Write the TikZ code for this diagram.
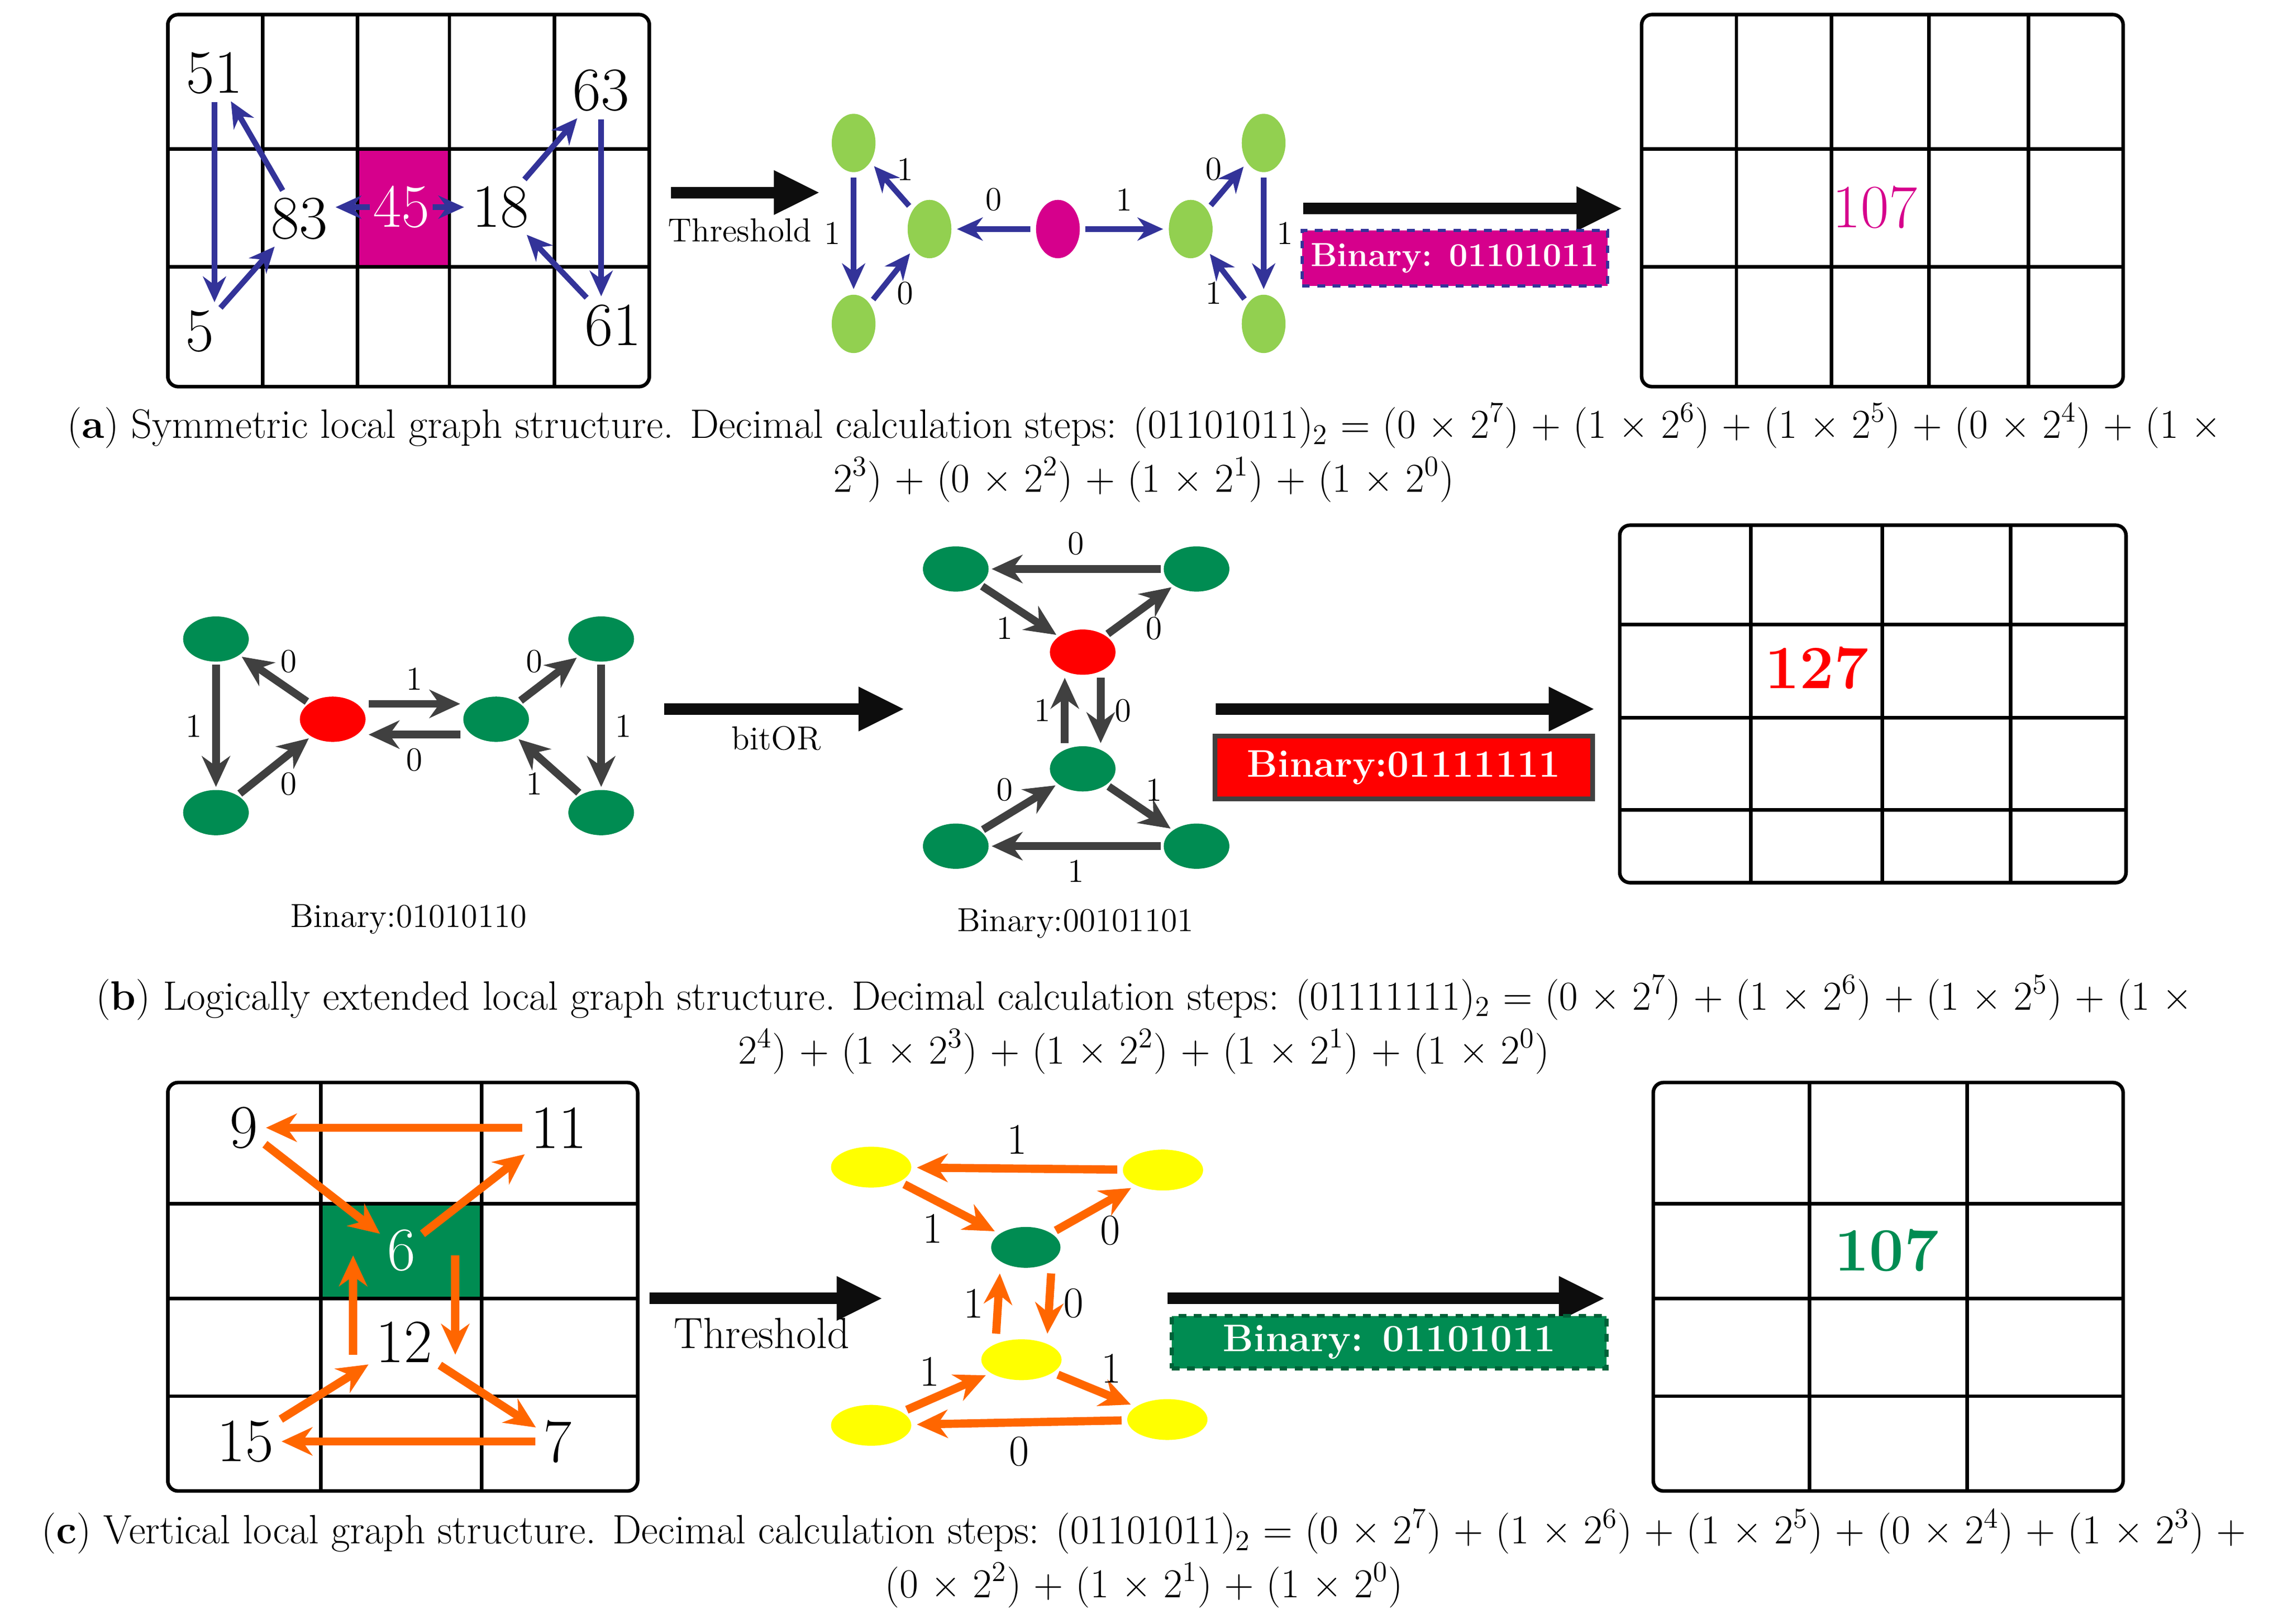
\documentclass[tikz,border=0pt]{standalone}
\usepackage{tikz}
\usetikzlibrary{arrows.meta,shapes.geometric}
\definecolor{magentaA}{RGB}{214,0,140}
\definecolor{blueA}{RGB}{51,51,153}
\definecolor{limeA}{RGB}{146,208,80}
\definecolor{greenB}{RGB}{0,140,82}
\definecolor{grayB}{RGB}{64,64,64}
\definecolor{orangeC}{RGB}{255,102,0}
\definecolor{yellowC}{RGB}{255,255,0}
\tikzset{
  cell/.style = {font=\fontsize{24}{24}\selectfont, inner sep=1pt},
  lab/.style = {font=\fontsize{13}{13}\selectfont, inner sep=1pt},
  labc/.style = {font=\fontsize{17}{17}\selectfont, inner sep=1pt},
  vA/.style = {ellipse, fill=limeA, minimum width=0.6cm, minimum height=0.8cm, inner sep=0pt},
  vB/.style = {ellipse, fill=greenB, minimum width=0.9cm, minimum height=0.62cm, inner sep=0pt},
  vC/.style = {ellipse, fill=yellowC, minimum width=1.1cm, minimum height=0.56cm, inner sep=0pt},
  blue/.style = {draw=blueA, line width=2.2pt, -{Stealth[length=10pt,width=9pt]}, shorten >=2pt, shorten <=2pt},
  dark/.style = {draw=grayB, line width=3pt, -{Stealth[length=12pt,width=11pt]}, shorten >=1pt, shorten <=1pt},
  orng/.style = {draw=orangeC, line width=3.2pt, -{Stealth[length=12pt,width=11pt]}, shorten >=2pt, shorten <=2pt},
  big/.style = {draw=black!95, line width=4.5pt, -{Triangle[length=18pt,width=16pt]}},
  gridline/.style = {draw=black, line width=1.4pt},
  captext/.style = {font=\fontsize{16}{21}\selectfont, align=center, inner sep=0pt}
}
\begin{document}
\begin{tikzpicture}[x=0.02cm,y=-0.02cm]
\useasboundingbox (0,0) rectangle (1568,1113);

% ---------- (a) ----------
\fill[magentaA] (245,102) rectangle (308,183);
\draw[gridline, rounded corners=4pt] (115,10) rectangle (445,265);
\foreach \x in {180,245,308,380} \draw[gridline] (\x,10) -- (\x,265);
\foreach \y in {102,183} \draw[gridline] (115,\y) -- (445,\y);
\node (n51) [cell] at (147,50) {51};
\node (n63) [cell] at (412,62) {63};
\node (n83) [cell] at (205,150) {83};
\node (n45) [cell,text=white] at (275,142) {45};
\node (n18) [cell] at (343,142) {18};
\node (n5) [cell] at (137,227) {5};
\node (n61) [cell] at (420,223) {61};
\draw [blue] (n51) -- (n51|-n5.north);
\draw [blue] (n83) -- (n51);
\draw [blue] (n5) -- (n83);
\draw [blue, shorten <=0pt] (n45.west) -- (n83.east|-n45.west);
\draw [blue, shorten <=0pt] (n45.east) -- (n18.west|-n45.east);
\draw [blue] (n18) -- (n63);
\draw [blue] (n63) -- (n63|-n61.north);
\draw [blue] (n61) -- (n18);

\node (ta) [lab] at (507,158) {Threshold};
\coordinate (ta1) at (460,132);
\coordinate (ta2) at (562,132);
\draw [big] (ta1) -- (ta2);

\node (a1) [vA] at (585,98) {};
\node (a2) [vA] at (637,157) {};
\node (a3) [vA] at (585,222) {};
\node (a0) [vA,fill=magentaA] at (725,157) {};
\node (a4) [vA] at (816,157) {};
\node (a5) [vA] at (866,98) {};
\node (a6) [vA] at (866,222) {};
\draw [blue] (a1) -- node[lab,left=3pt] {1} (a3);
\draw [blue] (a2) -- node[lab,above right] {1} (a1);
\draw [blue] (a3) -- node[lab,below right] {0} (a2);
\draw [blue] (a0) -- node[lab,above=5pt] {0} (a2);
\draw [blue] (a0) -- node[lab,above=5pt] {1} (a4);
\draw [blue] (a4) -- node[lab,above left] {0} (a5);
\draw [blue] (a5) -- node[lab,right=3pt] {1} (a6);
\draw [blue] (a6) -- node[lab,below left] {1} (a4);

\coordinate (pa1) at (893,143);
\coordinate (pa2) at (1112,143);
\draw [big] (pa1) -- (pa2);
\node (ba) [fill=magentaA, draw=blueA, dashed, line width=1.2pt, minimum width=3.75cm, minimum height=0.76cm,
  text=white, font=\fontsize{13}{13}\selectfont\bfseries] at (997,177) {Binary: 01101011};

\draw[gridline, rounded corners=4pt] (1125,10) rectangle (1455,265);
\foreach \x in {1190,1255,1322,1390} \draw[gridline] (\x,10) -- (\x,265);
\foreach \y in {102,183} \draw[gridline] (1125,\y) -- (1455,\y);
\node (ra) [cell,text=magentaA] at (1285,142) {107};

\node (capa) [captext] at (784,310) {(\textbf{a}) Symmetric local graph structure. Decimal calculation steps: (01101011)\textsubscript{2} = (0 × 2\textsuperscript{7}) + (1 × 2\textsuperscript{6}) + (1 × 2\textsuperscript{5}) + (0 × 2\textsuperscript{4}) + (1 ×\\
2\textsuperscript{3}) + (0 × 2\textsuperscript{2}) + (1 × 2\textsuperscript{1}) + (1 × 2\textsuperscript{0})};

% ---------- (b) ----------
\node (b1) [vB] at (148,438) {};
\node (b2) [vB] at (148,557) {};
\node (b0) [vB,fill=red] at (228,493) {};
\node (b3) [vB] at (340,493) {};
\node (b4) [vB] at (412,438) {};
\node (b5) [vB] at (412,557) {};
\draw [dark] (b1) -- node[lab,left=3pt] {1} (b2);
\draw [dark] (b0) -- node[lab,above right] {0} (b1);
\draw [dark] (b2) -- node[lab,below right] {0} (b0);
\draw [dark] ([yshift=6pt]b0.east) -- node[lab,above=3pt] {1} ([yshift=6pt]b3.west);
\draw [dark] ([yshift=-6pt]b3.west) -- node[lab,below=3pt] {0} ([yshift=-6pt]b0.east);
\draw [dark] (b3) -- node[lab,above left] {0} (b4);
\draw [dark] (b4) -- node[lab,right=3pt] {1} (b5);
\draw [dark] (b5) -- node[lab,below left] {1} (b3);
\node (bb1) [lab] at (280,630) {Binary:01010110};

\node (tb) [lab] at (532,506) {bitOR};
\coordinate (tb1) at (455,486);
\coordinate (tb2) at (620,486);
\draw [big] (tb1) -- (tb2);

\node (m1) [vB] at (655,390) {};
\node (m2) [vB] at (820,390) {};
\node (m0) [vB,fill=red] at (742,447) {};
\node (m3) [vB] at (742,527) {};
\node (m4) [vB] at (655,580) {};
\node (m5) [vB] at (820,580) {};
\draw [dark] (m2) -- node[lab,above=3pt] {0} (m1);
\draw [dark] (m1) -- node[lab,below left] {1} (m0);
\draw [dark] (m0) -- node[lab,below right] {0} (m2);
\draw [dark] ([xshift=-7pt]m3.north) -- node[lab,left=3pt] {1} ([xshift=-7pt]m0.south);
\draw [dark] ([xshift=7pt]m0.south) -- node[lab,right=3pt] {0} ([xshift=7pt]m3.north);
\draw [dark] (m4) -- node[lab,above left] {0} (m3);
\draw [dark] (m3) -- node[lab,above right] {1} (m5);
\draw [dark] (m5) -- node[lab,below=3pt] {1} (m4);
\node (bb2) [lab] at (737,633) {Binary:00101101};

\coordinate (pb1) at (833,486);
\coordinate (pb2) at (1093,486);
\draw [big] (pb1) -- (pb2);
\node (bb) [fill=red, draw=grayB, line width=1.8pt, minimum width=5.18cm, minimum height=0.86cm,
  text=white, font=\fontsize{15}{15}\selectfont\bfseries] at (962,526) {Binary:01111111};

\draw[gridline, rounded corners=4pt] (1110,360) rectangle (1457,605);
\foreach \x in {1200,1290,1378} \draw[gridline] (\x,360) -- (\x,605);
\foreach \y in {428,492,555} \draw[gridline] (1110,\y) -- (1457,\y);
\node (rb) [cell,text=red,font=\fontsize{24}{24}\selectfont\bfseries] at (1245,458) {127};

\node (capb) [captext] at (784,702) {(\textbf{b}) Logically extended local graph structure. Decimal calculation steps: (01111111)\textsubscript{2} = (0 × 2\textsuperscript{7}) + (1 × 2\textsuperscript{6}) + (1 × 2\textsuperscript{5}) + (1 ×\\
2\textsuperscript{4}) + (1 × 2\textsuperscript{3}) + (1 × 2\textsuperscript{2}) + (1 × 2\textsuperscript{1}) + (1 × 2\textsuperscript{0})};

% ---------- (c) ----------
\fill[greenB] (220,825) rectangle (330,890);
\draw[gridline, rounded corners=4pt] (115,742) rectangle (437,1022);
\foreach \x in {220,330} \draw[gridline] (\x,742) -- (\x,1022);
\foreach \y in {825,890,957} \draw[gridline] (115,\y) -- (437,\y);
\node (n9) [cell] at (167,773) {9};
\node (n11) [cell] at (383,773) {11};
\node (n6) [cell,text=white] at (275,857) {6};
\node (n12) [cell] at (277,920) {12};
\node (n15) [cell] at (168,988) {15};
\node (n7) [cell] at (382,988) {7};
\draw [orng] (n11) -- (n9);
\draw [orng] (n9) -- (n6);
\draw [orng] (n6) -- (n11);
\draw [orng, shorten <=-14pt] ([xshift=-0.7cm]n12.north) -- ([xshift=-0.7cm]n12.north|-n6.center);
\draw [orng, shorten >=-14pt] ([xshift=0.7cm]n12.north|-n6.center) -- ([xshift=0.7cm]n12.north);
\draw [orng] (n15) -- (n12);
\draw [orng] (n12) -- (n7);
\draw [orng] (n7) -- (n15);

\node (tc) [labc] at (522,914) {Threshold};
\coordinate (tc1) at (445,890);
\coordinate (tc2) at (605,890);
\draw [big] (tc1) -- (tc2);

\node (c1) [vC] at (597,800) {};
\node (c2) [vC] at (797,802) {};
\node (c0) [vC,fill=greenB,minimum width=0.95cm] at (703,855) {};
\node (c3) [vC] at (700,932) {};
\node (c4) [vC] at (597,977) {};
\node (c5) [vC] at (800,973) {};
\draw [orng] (c2) -- node[labc,above=3pt] {1} (c1);
\draw [orng] (c1) -- node[labc,below left] {1} (c0);
\draw [orng] (c0) -- node[labc,below right] {0} (c2);
\draw [orng] ([xshift=-10pt]c3.north) -- node[labc,left=3pt] {1} ([xshift=-10pt]c0.south);
\draw [orng] ([xshift=10pt]c0.south) -- node[labc,right=3pt] {0} ([xshift=10pt]c3.north);
\draw [orng] (c4) -- node[labc,above left] {1} (c3);
\draw [orng] (c3) -- node[labc,above right] {1} (c5);
\draw [orng] (c5) -- node[labc,below=3pt] {0} (c4);

\coordinate (pc1) at (800,890);
\coordinate (pc2) at (1100,890);
\draw [big] (pc1) -- (pc2);
\node (bc) [fill=greenB, draw=greenB!70!black, dashed, line width=1.5pt, minimum width=5.96cm, minimum height=0.72cm,
  text=white, font=\fontsize{15}{15}\selectfont\bfseries] at (952,920) {Binary: 01101011};

\draw[gridline, rounded corners=4pt] (1133,742) rectangle (1455,1022);
\foreach \x in {1240,1348} \draw[gridline] (\x,742) -- (\x,1022);
\foreach \y in {825,890,957} \draw[gridline] (1133,\y) -- (1455,\y);
\node (rc) [cell,text=greenB,font=\fontsize{24}{24}\selectfont\bfseries] at (1293,857) {107};

\node (capc) [captext] at (784,1068) {(\textbf{c}) Vertical local graph structure. Decimal calculation steps: (01101011)\textsubscript{2} = (0 × 2\textsuperscript{7}) + (1 × 2\textsuperscript{6}) + (1 × 2\textsuperscript{5}) + (0 × 2\textsuperscript{4}) + (1 × 2\textsuperscript{3}) +\\
(0 × 2\textsuperscript{2}) + (1 × 2\textsuperscript{1}) + (1 × 2\textsuperscript{0})};
\end{tikzpicture}
\end{document}
